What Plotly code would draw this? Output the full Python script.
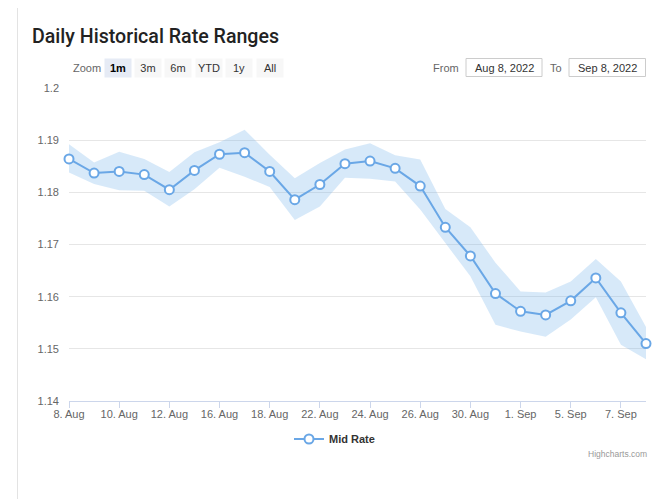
import plotly.graph_objects as go

# weekday dates shown in the chart (Highcharts stock skips weekends)
dates = ["2022-08-08", "2022-08-09", "2022-08-10", "2022-08-11", "2022-08-12",
         "2022-08-15", "2022-08-16", "2022-08-17", "2022-08-18", "2022-08-19",
         "2022-08-22", "2022-08-23", "2022-08-24", "2022-08-25", "2022-08-26",
         "2022-08-29", "2022-08-30", "2022-08-31", "2022-09-01", "2022-09-02",
         "2022-09-05", "2022-09-06", "2022-09-07", "2022-09-08"]

mid_rate = [1.1864, 1.1837, 1.1840, 1.1834, 1.1805, 1.1842, 1.1873, 1.1876,
            1.1840, 1.1786, 1.1815, 1.1855, 1.1860, 1.1846, 1.1812, 1.1733,
            1.1678, 1.1606, 1.1572, 1.1565, 1.1592, 1.1636, 1.1569, 1.1510]

low_rate = [1.1838, 1.1816, 1.1804, 1.1803, 1.1773, 1.1806, 1.1847, 1.1830,
            1.1810, 1.1747, 1.1773, 1.1828, 1.1826, 1.1821, 1.1767, 1.1703,
            1.1639, 1.1546, 1.1533, 1.1523, 1.1556, 1.1599, 1.1508, 1.1480]

high_rate = [1.1892, 1.1857, 1.1878, 1.1864, 1.1839, 1.1877, 1.1896, 1.1920,
             1.1872, 1.1827, 1.1856, 1.1882, 1.1894, 1.1871, 1.1863, 1.1768,
             1.1733, 1.1665, 1.1610, 1.1608, 1.1629, 1.1672, 1.1629, 1.1542]

tick_dates = ["2022-08-08", "2022-08-10", "2022-08-12", "2022-08-16",
              "2022-08-18", "2022-08-22", "2022-08-24", "2022-08-26",
              "2022-08-30", "2022-09-01", "2022-09-05", "2022-09-07"]
tick_labels = ["8. Aug", "10. Aug", "12. Aug", "16. Aug", "18. Aug", "22. Aug",
               "24. Aug", "26. Aug", "30. Aug", "1. Sep", "5. Sep", "7. Sep"]

zoom_buttons = ["1m", "3m", "6m", "YTD", "1y", "All"]
range_from = "Aug 8, 2022"
range_to = "Sep 8, 2022"

# the page body adds an 8px offset, so the figure is drawn 8px smaller
OFF = 8
W, H = 672 - OFF, 499 - OFF
L, R, T, B = 69 - OFF, 26, 88 - OFF, 98
PW, PH = W - L - R, H - T - B


# positions below are given in page pixels (as measured on the screenshot)
def px(x):
    return (x - OFF - L) / PW


def py(y):
    return (H - B - (y - OFF)) / PH


blue = "#6aa7e6"
band = "rgba(124,181,236,0.3)"
font = "Liberation Sans, Arial"
axis_font = dict(family=font, size=11, color="#666666")

fig = go.Figure()
fig.add_trace(go.Scatter(x=dates, y=low_rate, mode="lines", line=dict(width=0),
                         showlegend=False, hoverinfo="skip"))
fig.add_trace(go.Scatter(x=dates, y=high_rate, mode="lines", line=dict(width=0),
                         fill="tonexty", fillcolor=band, showlegend=False,
                         hoverinfo="skip"))
fig.add_trace(go.Scatter(x=dates, y=mid_rate, mode="lines+markers", name="Mid Rate",
                         line=dict(color=blue, width=2),
                         marker=dict(size=9, color="white",
                                     line=dict(color=blue, width=2)),
                         cliponaxis=False))

annotations = []
shapes = []


def label(text, x, y, size=11, color="#666666", **kw):
    d = dict(text=text, x=px(x), y=py(y), xref="paper", yref="paper",
             xanchor="center", yanchor="middle", showarrow=False,
             font=dict(family=font, size=size, color=color))
    d.update(kw)
    annotations.append(d)


# range selector buttons
label("Zoom", 87, 68)
for i, lab in enumerate(zoom_buttons):
    sel = i == 0
    label("<b>%s</b>" % lab if sel else lab, 117.5 + i * 30.4, 68,
          color="#000000" if sel else "#333333",
          width=26, height=18, borderpad=0,
          bgcolor="#e6ebf5" if sel else "#f7f7f7")

# from / to inputs
label("From", 446, 68)
label("To", 556, 68)
for x0, x1, txt in [(466, 542, range_from), (569, 645.5, range_to)]:
    shapes.append(dict(type="rect", xref="paper", yref="paper",
                       x0=px(x0), x1=px(x1), y0=py(76.5), y1=py(58.5),
                       line=dict(color="#cccccc", width=1), fillcolor="white",
                       layer="below"))
    label(txt, (x0 + x1) / 2, 68, color="#333333")

# credits
label("Highcharts.com", 649, 454, size=8.5, color="#999999", xanchor="right")

# page border on the left
shapes.append(dict(type="line", xref="paper", yref="paper", x0=px(17.5), x1=px(17.5),
                   y0=py(499), y1=py(OFF), line=dict(color="#e3e3e3", width=1)))

fig.update_layout(
    width=W, height=H,
    margin=dict(l=L, r=R, t=T, b=B),
    paper_bgcolor="white", plot_bgcolor="white",
    title=dict(text="Daily Historical Rate Ranges", xref="container", yref="container",
               x=(32 - OFF) / W, xanchor="left", y=1 - (36 - OFF) / H,
               yanchor="middle",
               font=dict(family="Roboto", size=19.6, color="#222222", weight=500)),
    xaxis=dict(type="category", range=[0, len(dates) - 1],
               tickmode="array", tickvals=tick_dates, ticktext=tick_labels,
               showgrid=False, showline=True, linecolor="#ccd6eb", linewidth=1,
               ticks="outside", ticklen=6, tickcolor="#ccd6eb",
               tickfont=axis_font, zeroline=False, ticklabelstandoff=-3),
    yaxis=dict(range=[1.14, 1.2], dtick=0.01, tickformat="~r",
               showgrid=True, gridcolor="#e6e6e6", gridwidth=1,
               zeroline=False, showline=False, tickfont=axis_font,
               ticklabelstandoff=9),
    legend=dict(orientation="h", x=px(331 - 42), xanchor="left", y=py(439),
                yanchor="middle", font=dict(family=font, size=11,
                                            color="#333333", weight="bold")),
    annotations=annotations,
    shapes=shapes,
)

fig.write_html("out.html")
